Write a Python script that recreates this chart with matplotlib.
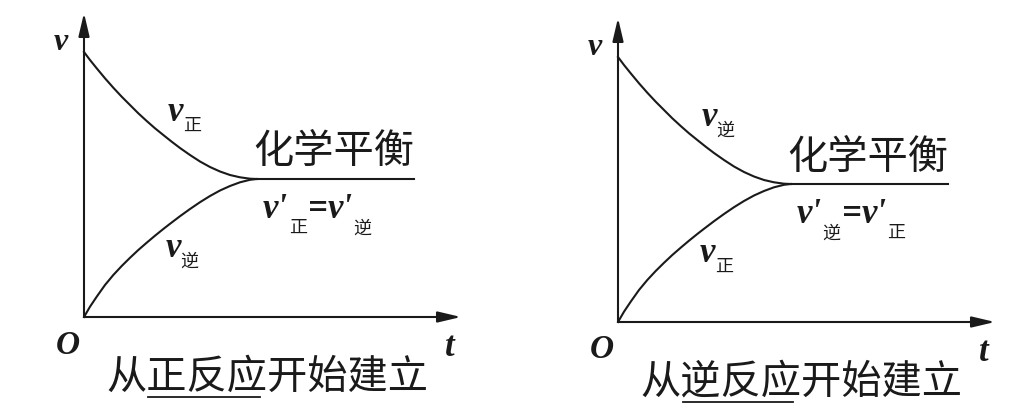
import numpy as np
import matplotlib
matplotlib.use("Agg")
from matplotlib import pyplot as plt

plt.rcParams['font.family'] = ['Noto Sans CJK SC', 'DejaVu Sans']

# curves (t, v in arbitrary units, 1 unit ~ 10 px)
t_fall = [0, 0.6, 1.27, 2.1, 2.93, 3.77, 4.6, 5.43, 6.27, 7.1, 7.93, 8.77, 9.6,
          10.6, 11.6, 12.6, 13.6, 14.6, 15.6, 16.6, 17.3]
v_fall = [26.5, 25.7, 24.87, 23.87, 22.93, 22.03, 21.2, 20.37, 19.6, 18.87, 18.2,
          17.53, 16.9, 16.2, 15.55, 15.0, 14.55, 14.2, 13.97, 13.83, 13.8]
t_rise = [0, 0.6, 1.27, 2.1, 2.93, 3.77, 4.6, 5.43, 6.27, 7.1, 7.93, 8.6, 9.6,
          10.6, 11.6, 12.6, 13.6, 14.6, 15.6, 16.6, 17.3]
v_rise = [0, 1.03, 2.03, 3.2, 4.2, 5.1, 5.92, 6.7, 7.43, 8.13, 8.8, 9.32, 10.08,
          10.8, 11.48, 12.1, 12.65, 13.1, 13.47, 13.72, 13.8]
t_eq = [17.3, 33.0]
v_eq = [13.8, 13.8]

titles = ["从正反应开始建立", "从逆反应开始建立"]
upper_sub = ["正", "逆"]
lower_sub = ["逆", "正"]
eq_subs = [("正", "逆"), ("逆", "正")]
underline_t = [[6.4, 17.6], [6.5, 17.5]]

fig = plt.figure(figsize=(10.16, 4.15), dpi=100)
rects = [[0, 0, 0.5, 1], [0.5, 0, 0.5, 1]]
xlims = [(-8.4, 42.4), (-11.0, 39.8)]
ylims = [(-9.8, 31.7), (-9.3, 32.2)]
c = "#1a1a1a"
serif = dict(family="Liberation Serif", style="italic", weight="bold")
cjk = dict(family=["Noto Sans CJK SC", "DejaVu Sans"])
arrow = dict(arrowstyle="-|>,head_length=1.4,head_width=0.33", color=c, lw=1.5,
             shrinkA=0, shrinkB=0)
renderer = fig.canvas.get_renderer()


def chain(ax, x, y, parts):
    # parts: (text, size, dy in points, font props, extra gap after in points)
    off = 0.0
    for s, size, dy, props, gap in parts:
        t = ax.annotate(s, xy=(x, y), xytext=(off, dy), textcoords="offset points",
                        fontsize=size, ha="left", va="baseline", color=c,
                        annotation_clip=False, **props)
        off += t.get_window_extent(renderer).width * 72 / fig.dpi + gap


for i in range(2):
    ax = fig.add_axes(rects[i])
    ax.set_xlim(xlims[i])
    ax.set_ylim(ylims[i])
    ax.axis("off")

    # axes with arrows
    ax.annotate("", xy=(37.7, 0), xytext=(0, 0), arrowprops=arrow)
    ax.annotate("", xy=(0, 30.4), xytext=(0, 0), arrowprops=arrow)

    ax.plot(t_fall, v_fall, color=c, lw=1.5)
    ax.plot(t_rise, v_rise, color=c, lw=1.5)
    ax.plot(t_eq, v_eq, color=c, lw=1.5)

    ax.text(-2.3, 27.4, "v", fontsize=23, ha="center", va="center", color=c, **serif)
    ax.text(-1.6, -2.8, "O", fontsize=24, ha="center", va="center", color=c, **serif)
    ax.text(36.6, -3.0, "t", fontsize=25, ha="center", va="center", color=c, **serif)

    chain(ax, 8.4, 19.6, [("v", 25, 0, serif, -0.5), (upper_sub[i], 13, -7, cjk, 0)])
    chain(ax, 8.2, 6.0, [("v", 25, 0, serif, -0.5), (lower_sub[i], 13, -7, cjk, 0)])
    a, b = eq_subs[i]
    chain(ax, 17.9, 9.9, [("v'", 25, 0, serif, 0.5), (a, 13, -11, cjk, 1),
                          ("=", 25, 0, serif, 0), ("v'", 25, 0, serif, 0.5),
                          (b, 13, -11, cjk, 0)])

    ax.text(25.0, 16.5, "化学平衡", fontsize=29, ha="center", va="center", color=c)
    ax.text(18.3, -6.0, titles[i], fontsize=29, ha="center", va="center", color=c)
    ax.plot(underline_t[i], [-8.0, -8.0], color=c, lw=1.3, clip_on=False)

fig.savefig("out.png", dpi=100, facecolor="white")
